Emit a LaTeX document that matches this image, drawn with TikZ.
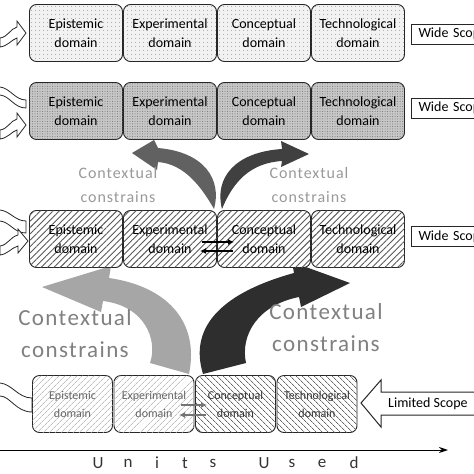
\documentclass[tikz,border=0pt]{standalone}
\usepackage{fontspec}
\setmainfont{Carlito}
\newfontfamily\ctxfont[LetterSpace=6]{Carlito}
\usetikzlibrary{arrows.meta,patterns.meta}

\tikzset{
  dombox/.style={draw=black!85, line width=0.9pt, rounded corners=7pt,
    minimum width=93pt, minimum height=57pt, align=center, inner sep=1pt,
    font=\fontsize{14}{19}\selectfont},
  dotbox/.style={dombox, fill=black!5,
    postaction={pattern={Dots[distance=4pt,radius=0.55pt]}, pattern color=black!50}},
  densebox/.style={dombox, fill=black!22,
    postaction={pattern={Dots[distance=2.5pt,radius=0.5pt]}, pattern color=black!55}},
  hatchbox/.style={dombox, fill=white,
    postaction={pattern={Lines[angle=45,distance=4.5pt,line width=0.9pt]}, pattern color=black!65}},
  lightbox/.style={dombox, minimum width=80pt, text=black!60, fill=white,
    font=\fontsize{12}{18}\selectfont,
    postaction={pattern={Lines[angle=45,distance=4pt,line width=0.8pt]}, pattern color=black!25}},
  darkbox/.style={dombox, minimum width=80pt, text=black!80, fill=white,
    font=\fontsize{12}{18}\selectfont,
    postaction={pattern={Lines[angle=-45,distance=4pt,line width=0.8pt]}, pattern color=black!60}},
  scopebox/.style={draw=black!85, line width=1pt, anchor=west, minimum height=20pt,
    text width=86pt, align=left, inner xsep=7pt, inner ysep=1pt, fill=white,
    font=\fontsize{14}{16}\selectfont},
  inlet/.style={draw=black!85, line width=0.8pt, fill=white},
  swap/.style={line width=1.6pt, -{Latex[length=6pt,width=6pt]}},
  ctxsmall/.style={align=center, text=black!40, font=\ctxfont\fontsize{16}{24}\selectfont},
  ctxbig/.style={align=center, text=black!50, font=\ctxfont\fontsize{23}{32}\selectfont},
  unitchar/.style={text=black!80, font=\fontsize{17}{20}\selectfont}
}

\begin{document}
\begin{tikzpicture}[x=1pt,y=-1pt]
\useasboundingbox (0,0) rectangle (474,474);

% inlets on the left edge
\draw[inlet] (0,38) .. controls (8,37) and (10,29) .. (17,27) -- (17,21) -- (26,33)
  -- (17,45) -- (17,38) .. controls (11,40) and (8,46) .. (0,47) -- cycle;
\draw[inlet] (0,87) .. controls (10,88) and (15,100) .. (26,100) -- (26,108)
  .. controls (14,108) and (10,96) .. (0,95);
\draw[inlet] (0,130) .. controls (8,129) and (10,121) .. (17,119) -- (17,113) -- (26,125)
  -- (17,137) -- (17,130) .. controls (11,132) and (8,138) .. (0,139) -- cycle;
\draw[inlet] (0,210) .. controls (10,211) and (15,221) .. (26,221) -- (26,233)
  .. controls (14,233) and (10,222) .. (0,221);
\draw[inlet] (0,246) .. controls (8,245) and (10,237) .. (18,235) -- (18,229) -- (28,241)
  -- (18,253) -- (18,246) .. controls (11,248) and (8,254) .. (0,255) -- cycle;
\draw[inlet] (0,383) .. controls (12,384) and (18,398) .. (32,398) -- (32,412)
  .. controls (16,412) and (10,396) .. (0,396);

% contextual constrains, upper pair
\fill[black!62] (214,209) .. controls (222,180) and (205,152) .. (158,148) -- (154,140)
  -- (132,153) -- (157,170) -- (158,162) .. controls (185,164) and (202,188) .. (214,209) -- cycle;
\fill[black!75] (222,209) .. controls (214,178) and (235,152) .. (282,149) -- (281,141)
  -- (309,154) -- (281,167) -- (282,161) .. controls (250,163) and (233,182) .. (222,209) -- cycle;

% contextual constrains, lower pair
\fill[black!35] (189,374) .. controls (200,320) and (165,286) .. (109,278) -- (111,266)
  -- (42,287) -- (101,312) -- (103,301) .. controls (145,306) and (158,340) .. (150,363) -- cycle;
\fill[black!82] (203,374) .. controls (188,325) and (225,292) .. (294,273) -- (292,262)
  -- (350,283) -- (301,307) -- (299,297) .. controls (258,305) and (240,335) .. (246,363) -- cycle;

\node[ctxsmall] (cl) at (118,185) {Contextual\\constrains};
\node[ctxsmall] (cr) at (309,185) {Contextual\\constrains};
\node[ctxbig] (bl) at (75,334) {Contextual\\constrains};
\node[ctxbig] (br) at (326,328) {Contextual\\constrains};

% four rows of domains
\foreach \lbl [count=\i] in {Epistemic,Experimental,Conceptual,Technological} {
  \node[dotbox] (a\i) at ({-18+94*\i},33) {\lbl\\domain};
  \node[densebox] (b\i) at ({-18+94*\i},111) {\lbl\\domain};
  \node[hatchbox] (c\i) at ({-18+94*\i},239) {\lbl\\domain};
}
\foreach \lbl/\sty [count=\i] in {Epistemic/lightbox,Experimental/lightbox,Conceptual/darkbox,Technological/darkbox} {
  \node[\sty] (d\i) at ({-9+81.5*\i},404) {\lbl\\domain};
}

% exchange between experimental and conceptual
\coordinate (s1) at (202,242); \coordinate (s2) at (234,242);
\coordinate (s3) at (233,251); \coordinate (s4) at (200,251);
\draw[swap] (s1) -- (s2);
\draw[swap] (s3) -- (s4);
\coordinate (t1) at (181,405); \coordinate (t2) at (207,405);
\coordinate (t3) at (206,415); \coordinate (t4) at (179,415);
\draw[swap, black!55, line width=1.3pt] (t1) -- (t2);
\draw[swap, black!55, line width=1.3pt] (t3) -- (t4);

% scope
\node[scopebox] (w1) at (411,34) {Wide Scope};
\node[scopebox] (w2) at (411,108) {Wide Scope};
\node[scopebox] (w3) at (411,236.5) {Wide Scope};
\draw[inlet, line width=1pt] (361,403) -- (381,380) -- (381,392) -- (490,392) -- (490,415)
  -- (381,415) -- (381,427) -- cycle;
\node[anchor=west, font=\fontsize{14}{16}\selectfont, inner sep=0pt] (ls) at (388,403.5) {Limited Scope};

% units axis
\coordinate (ax0) at (0,450); \coordinate (ax1) at (448,450);
\draw[line width=1pt, -{Stealth[length=9pt,width=6pt]}] (ax0) -- (ax1);
\foreach \ch/\px [count=\k] in {U/98,n/128,i/157,t/185,s/213,U/264,s/292,e/322,d/354} {
  \node[unitchar] (u\k) at (\px,463) {\ch};
}
\end{tikzpicture}
\end{document}
